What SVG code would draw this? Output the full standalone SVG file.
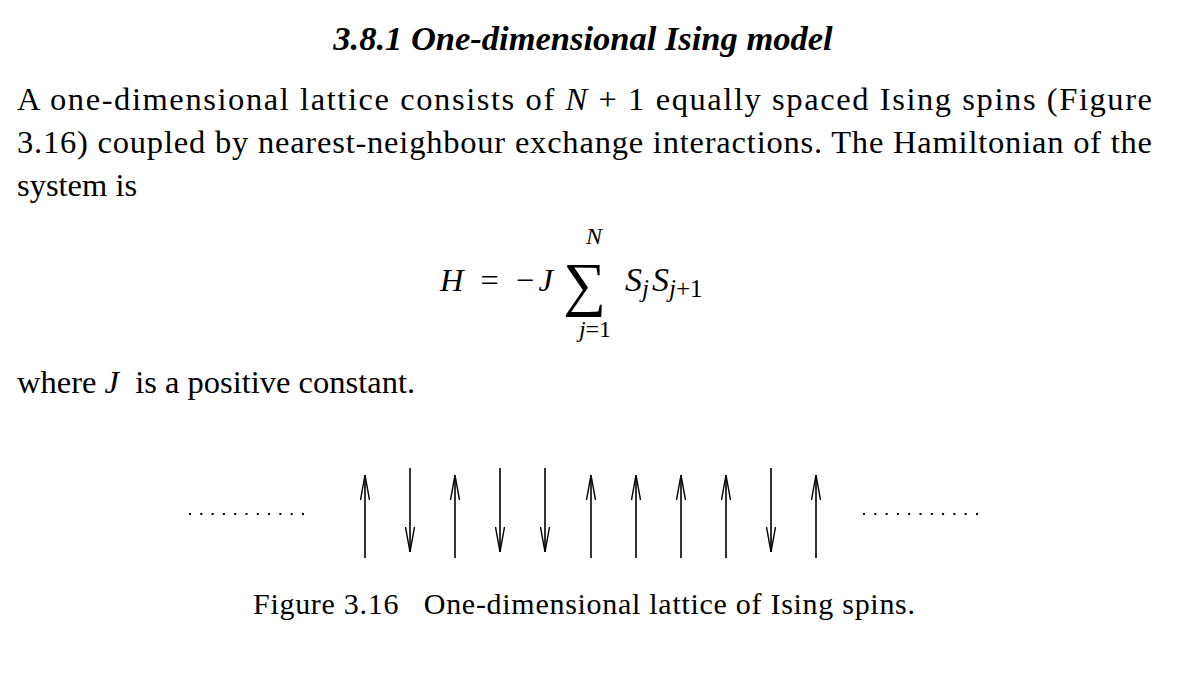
<svg xmlns="http://www.w3.org/2000/svg" width="1201" height="692" viewBox="0 0 1201 692">
<style>
text{font-family:"Liberation Serif",serif;fill:#000}
.b{font-size:32.5px}
.i{font-style:italic}
.s{stroke:#000;stroke-width:1.6;fill:none}
.d{stroke:#000;stroke-width:2;stroke-dasharray:2 9.3}
</style>
<defs>
<marker id="h" markerWidth="26" markerHeight="10" refX="25" refY="5" orient="auto" markerUnits="userSpaceOnUse" viewBox="0 0 26 10">
<path d="M0 0.5 L25 5 L0 9.5" fill="none" stroke="#000" stroke-width="1.4"/>
</marker>
</defs>
<rect width="1201" height="692" fill="#fff"/>
<text x="583" y="50" text-anchor="middle" font-size="34.5" font-weight="bold" font-style="italic">3.8.1 One-dimensional Ising model</text>
<text class="b" x="17" y="110" textLength="1135" lengthAdjust="spacing">A one-dimensional lattice consists of <tspan class="i">N</tspan> + 1 equally spaced Ising spins (Figure</text>
<text class="b" x="17" y="153" textLength="1135" lengthAdjust="spacing">3.16) coupled by nearest-neighbour exchange interactions. The Hamiltonian of the</text>
<text class="b" x="17" y="196">system is</text>
<g id="equation">
<text class="b" x="440" y="291" textLength="113"><tspan class="i">H</tspan> = −<tspan class="i">J</tspan></text>
<text x="563" y="304" font-size="60">∑</text>
<text class="i" x="594" y="244" font-size="24" text-anchor="middle">N</text>
<text x="595" y="337" font-size="24" text-anchor="middle"><tspan class="i">j</tspan>=1</text>
<text class="i" x="625" y="291" font-size="34">S<tspan font-size="25" dy="6">j</tspan><tspan dy="-6" dx="3">S</tspan><tspan font-size="25" dy="6">j</tspan><tspan font-size="25" font-style="normal">+1</tspan></text>
</g>
<text class="b" x="17" y="393" xml:space="preserve">where <tspan class="i">J</tspan>  is a positive constant.</text>
<g id="connectors">
<line class="d" x1="189" y1="514" x2="312" y2="514"/>
<line class="d" x1="863" y1="514" x2="986" y2="514"/>
<line class="s" x1="365" y1="558" x2="365" y2="475" marker-end="url(#h)"/>
<line class="s" x1="410" y1="468" x2="410" y2="552" marker-end="url(#h)"/>
<line class="s" x1="455" y1="558" x2="455" y2="475" marker-end="url(#h)"/>
<line class="s" x1="500" y1="468" x2="500" y2="552" marker-end="url(#h)"/>
<line class="s" x1="545" y1="468" x2="545" y2="552" marker-end="url(#h)"/>
<line class="s" x1="591" y1="558" x2="591" y2="475" marker-end="url(#h)"/>
<line class="s" x1="636" y1="558" x2="636" y2="475" marker-end="url(#h)"/>
<line class="s" x1="681" y1="558" x2="681" y2="475" marker-end="url(#h)"/>
<line class="s" x1="726" y1="558" x2="726" y2="475" marker-end="url(#h)"/>
<line class="s" x1="771" y1="468" x2="771" y2="552" marker-end="url(#h)"/>
<line class="s" x1="816" y1="558" x2="816" y2="475" marker-end="url(#h)"/>
</g>
<text x="253" y="614" font-size="30" textLength="662" lengthAdjust="spacing" xml:space="preserve">Figure 3.16   One-dimensional lattice of Ising spins.</text>
</svg>
